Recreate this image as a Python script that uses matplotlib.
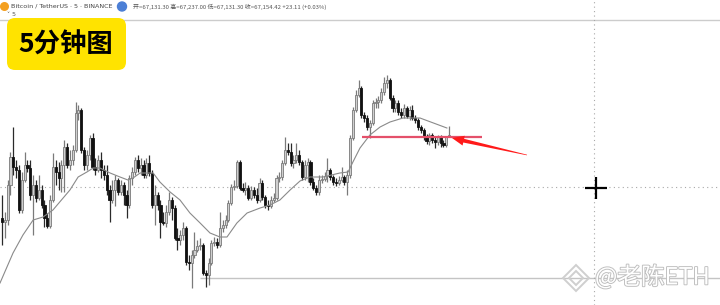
import numpy as np
import matplotlib.pyplot as plt
from matplotlib.patches import FancyBboxPatch, Circle, Polygon
from matplotlib.transforms import IdentityTransform
import matplotlib.patheffects as pe

plt.rcParams['font.family'] = ['DejaVu Sans', 'Noto Sans CJK SC']

# BTCUSDT 5m candles
opens = [66320, 66280, 66300, 66650, 66930, 66830, 66800, 66400, 66700, 66850,
         66820, 66550, 66650, 66520, 66600, 66450, 66320, 66240, 66500, 66830,
         66780, 66720, 66850, 67030, 66850, 66900, 67000, 67370, 67400, 67000,
         66850, 66950, 67120, 66830, 66800, 66900, 66800, 66750, 66600, 66500,
         66600, 66700, 66580, 66650, 66550, 66450, 66720, 66780, 66900, 66820,
         66850, 66750, 66870, 66770, 66450, 66550, 66450, 66280, 66270, 66380,
         66500, 66420, 66120, 66100, 66150, 66220, 65880, 65870, 65950, 66000,
         66040, 66050, 65770, 65750, 65870, 66070, 66080, 66050, 66220, 66250,
         66300, 66470, 66630, 66640, 66880, 66620, 66600, 66620, 66520, 66600,
         66550, 66500, 66670, 66530, 66450, 66440, 66500, 66520, 66720, 66730,
         66870, 67000, 66980, 66870, 66900, 66950, 66880, 66730, 66850, 66880,
         66680, 66620, 66580, 66700, 66710, 66740, 66800, 66730, 66680, 66670,
         66700, 66730, 66680, 66750, 67120, 67400, 67550, 67620, 67350, 67320,
         67230, 67270, 67470, 67480, 67500, 67580, 67670, 67700, 67520, 67420,
         67470, 67380, 67350, 67420, 67340, 67400, 67320, 67300, 67230, 67200,
         67130, 67090, 67150, 67100, 67080, 67130, 67070, 67050, 67131.30]
highs = [66550, 66380, 66700, 66980, 67230, 66900, 66850, 66780, 66980, 66900,
         66900, 66750, 66700, 66750, 66650, 66500, 66370, 66550, 66970, 66900,
         66880, 66900, 67100, 67070, 67000, 67050, 67480, 67450, 67420, 67030,
         67000, 67150, 67170, 66920, 66950, 66980, 66850, 66850, 66650, 66700,
         66750, 66720, 66700, 66680, 66600, 66750, 66830, 66930, 66950, 66920,
         66900, 66920, 66950, 66800, 66650, 66580, 66500, 66380, 66450, 66580,
         66530, 66450, 66220, 66200, 66280, 66240, 65950, 66000, 66180, 66100,
         66120, 66070, 65800, 65920, 66100, 66130, 66120, 66380, 66300, 66350,
         66500, 66660, 66700, 66900, 66900, 66670, 66680, 66650, 66640, 66630,
         66620, 66720, 66700, 66550, 66500, 66540, 66570, 66750, 66780, 66900,
         67130, 67070, 67070, 66950, 67070, 67000, 66900, 66900, 66920, 66900,
         66720, 66650, 66750, 66750, 66780, 66920, 66820, 66750, 66720, 66740,
         66830, 66750, 66800, 67150, 67430, 67600, 67700, 67640, 67380, 67350,
         67300, 67500, 67520, 67540, 67620, 67730, 67750, 67720, 67550, 67500,
         67500, 67420, 67460, 67440, 67440, 67450, 67350, 67320, 67250, 67220,
         67160, 67170, 67170, 67130, 67150, 67150, 67100, 67120, 67237.00]
lows = [66050, 66120, 66250, 66550, 66750, 66720, 66370, 66370, 66680, 66780,
        66500, 66150, 66480, 66500, 66420, 66230, 66220, 66220, 66480, 66650,
        66600, 66580, 66580, 66820, 66800, 66850, 66980, 67300, 66970, 66800,
        66800, 66900, 66800, 66750, 66780, 66720, 66700, 66550, 66280, 66470,
        66440, 66550, 66550, 66450, 66320, 66420, 66650, 66750, 66780, 66750,
        66720, 66720, 66740, 66420, 66250, 66400, 66120, 66250, 66230, 66350,
        66300, 66100, 66000, 66050, 66100, 65850, 65800, 65620, 65920, 65980,
        66000, 65750, 65630, 65650, 65850, 66040, 66020, 66030, 66180, 66220,
        66280, 66450, 66600, 66620, 66600, 66580, 66550, 66500, 66500, 66520,
        66470, 66480, 66500, 66420, 66400, 66420, 66480, 66500, 66680, 66700,
        66850, 66950, 66840, 66820, 66870, 66850, 66700, 66700, 66680, 66650,
        66600, 66550, 66550, 66670, 66690, 66680, 66700, 66650, 66640, 66650,
        66680, 66650, 66550, 66720, 67100, 67380, 67530, 67320, 67280, 67200,
        67120, 67250, 67420, 67420, 67470, 67550, 67620, 67500, 67380, 67380,
        67350, 67320, 67320, 67320, 67300, 67300, 67270, 67200, 67170, 67100,
        67060, 67050, 67070, 67020, 67050, 67030, 67030, 67030, 67131.30]
closes = [66280, 66300, 66650, 66930, 66830, 66800, 66400, 66700, 66850, 66820,
          66550, 66650, 66520, 66600, 66450, 66320, 66240, 66500, 66830, 66780,
          66720, 66850, 67030, 66850, 66900, 67000, 67370, 67400, 67000, 66850,
          66950, 67120, 66830, 66800, 66900, 66800, 66750, 66600, 66500, 66600,
          66700, 66580, 66650, 66550, 66450, 66720, 66780, 66900, 66820, 66850,
          66750, 66870, 66770, 66450, 66550, 66450, 66280, 66270, 66380, 66500,
          66420, 66120, 66100, 66150, 66220, 65880, 65870, 65950, 66000, 66040,
          66050, 65770, 65750, 65870, 66070, 66080, 66050, 66220, 66250, 66300,
          66470, 66630, 66640, 66880, 66620, 66600, 66620, 66520, 66600, 66550,
          66500, 66670, 66530, 66450, 66440, 66500, 66520, 66720, 66730, 66870,
          67000, 66980, 66870, 66900, 66950, 66880, 66730, 66850, 66880, 66680,
          66620, 66580, 66700, 66710, 66740, 66800, 66730, 66680, 66670, 66700,
          66730, 66680, 66750, 67120, 67400, 67550, 67620, 67350, 67320, 67230,
          67270, 67470, 67480, 67500, 67580, 67670, 67700, 67520, 67420, 67470,
          67380, 67350, 67420, 67340, 67400, 67320, 67300, 67230, 67200, 67130,
          67090, 67150, 67100, 67080, 67130, 67070, 67050, 67131.30, 67154.42]

# moving average line (candle index, price)
ma_idx = [-0.7, 3.9, 7.4, 11.0, 14.5, 18.0, 21.6, 24.0, 26.9, 30.0, 32.2, 34.6,
          38.2, 41.7, 44.5, 46.3, 48.8, 53.4, 55.8, 59.4, 62.9, 66.4, 70.0, 73.5,
          77.0, 79.5, 83.0, 86.6, 91.2, 94.7, 98.2, 101.8, 105.3, 108.8, 113.4,
          119.4, 122.3, 124.0, 126.5, 130.0, 133.6, 137.1, 141.7, 147.7, 157.2]
ma_val = [65670, 65970, 66150, 66300, 66330, 66400, 66520, 66600, 66730, 66780,
          66820, 66820, 66770, 66730, 66700, 66720, 66770, 66770, 66680, 66580,
          66500, 66370, 66270, 66170, 66130, 66130, 66270, 66370, 66420, 66450,
          66500, 66600, 66690, 66730, 66730, 66770, 66780, 66880, 67020, 67150,
          67230, 67280, 67320, 67320, 67220]

level_red = 67130        # red marked level
red_span = (127.2, 169.6)
level_support = 65720    # grey horizontal line
support_start = 70
level_top = 68300
cross_x, cross_y = 209.2, 66630
arrow_tail = (185.5, 66950)
arrow_head = (159.0, 67120)

header_left = 'Bitcoin / TetherUS · 5 · BINANCE'
header_ohlc = '开=67,131.30 高=67,237.00 低=67,131.30 收=67,154.42 +23.11 (+0.03%)'
badge_text = '5分钟图'
watermark = '@老陈ETH'

fig = plt.figure(figsize=(7.2, 3.05), dpi=100)
ax = fig.add_axes([0, 0, 1, 1])
ax.set_axis_off()

# candle spacing ~2.83 px, first candle 2 px from the left edge
ax.set_xlim(-2 / 2.83, 718 / 2.83)
ax.set_ylim(65450, 68500)

o = np.array(opens)
h = np.array(highs)
l = np.array(lows)
c = np.array(closes)
x = np.arange(len(c))
up = c >= o

ax.vlines(x[up], l[up], h[up], color='#7a7a7a', lw=0.9, zorder=2)
ax.vlines(x[~up], l[~up], h[~up], color='#2a2a2a', lw=0.9, zorder=2)
ax.bar(x[up], c[up] - o[up], bottom=o[up], width=0.75, color='#cfcfcf',
       edgecolor='#7a7a7a', lw=0.6, zorder=3)
ax.bar(x[~up], c[~up] - o[~up], bottom=o[~up], width=0.75, color='#111111',
       edgecolor='#111111', lw=0.6, zorder=3)

ax.plot(ma_idx, ma_val, color='#8a8a8a', lw=0.8, zorder=4)

# lines
ax.axhline(level_top, color='#cccccc', lw=1, zorder=1)
ax.hlines(level_support, support_start, 260, color='#c4c4c4', lw=1, zorder=1)
ax.hlines(level_red, red_span[0], red_span[1], color='#e4506a', lw=1.6, zorder=5)

# crosshair
ax.axvline(cross_x, color='#a8a8a8', lw=0.8, ls=(0, (1, 3)), zorder=1)
ax.axhline(cross_y, color='#a8a8a8', lw=0.8, ls=(0, (1, 3)), zorder=1)
ax.plot(cross_x + 0.6, cross_y - 10, marker='+', ms=16, mew=1.6, color='black', zorder=6)

# red arrow (tapered)
fig.canvas.draw()
pt = ax.transData.transform(arrow_tail)
ph = ax.transData.transform(arrow_head)
d = (ph - pt) / np.hypot(*(ph - pt))
n = np.array([-d[1], d[0]])
base = ph - d * 12
poly = [pt + n * 0.3, base + n * 1.9, base + n * 5, ph,
        base - n * 5, base - n * 1.9, pt - n * 0.3]
ax.add_patch(Polygon(poly, closed=True, color='#ff1a1a', lw=0,
                     transform=IdentityTransform(), zorder=7))

# header
inch = fig.dpi_scale_trans
def px(xp, yp):
    return (xp / 100, (305 - yp) / 100)

fig.add_artist(Circle(px(4.5, 6.5), 0.038, color='#f4a020', transform=inch))
fig.text(11 / 720, 1 - 6.5 / 305, header_left, fontsize=4.6, color='#444444',
         va='center', ha='left')
fig.add_artist(Circle(px(122, 6.5), 0.045, color='#4c7fd6', transform=inch))
fig.text(133 / 720, 1 - 6.5 / 305, header_ohlc, fontsize=4.3, color='#555555',
         va='center', ha='left', family=['Noto Sans CJK SC', 'DejaVu Sans'])
fig.text(7 / 720, 1 - 15 / 305, '˅ 5', fontsize=4.4, color='#555555',
         va='center', ha='left')

# yellow badge
fig.add_artist(FancyBboxPatch(px(7, 70), 1.19, 0.52,
                              boxstyle='round,pad=0,rounding_size=0.08',
                              facecolor='#ffe300', edgecolor='none', transform=inch))
fig.text(66 / 720, 1 - 45 / 305, badge_text, fontsize=19, fontweight='bold',
         color='black', ha='center', va='center',
         family=['Noto Sans CJK SC', 'DejaVu Sans'])

# watermark
logo_c = np.array(px(576, 278))
for r in (0.13, 0.07):
    pts = [logo_c + v for v in ([0, r], [r, 0], [0, -r], [-r, 0])]
    fig.add_artist(Polygon(pts, closed=True, fill=False, edgecolor='#cfcfcf',
                           lw=1.4, transform=inch))
fig.text(595 / 720, 1 - 277 / 305, watermark, fontsize=17, color='white',
         ha='left', va='center', family=['Noto Sans CJK SC', 'DejaVu Sans'],
         path_effects=[pe.withStroke(linewidth=1.3, foreground='#bdbdbd')])

fig.savefig('out.png', dpi=100, facecolor='white')
